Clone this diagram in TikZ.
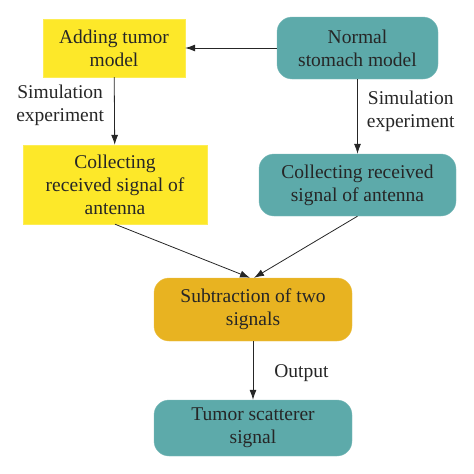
\documentclass[tikz,border=0pt]{standalone}
\usepackage{fontspec}
\setmainfont{Liberation Serif}
\usetikzlibrary{arrows.meta,positioning}

\definecolor{boxyellow}{HTML}{FDE829}
\definecolor{boxteal}{HTML}{5DAAAA}
\definecolor{boxgold}{HTML}{E8B321}
\definecolor{inkgray}{HTML}{262626}

\tikzset{
  flatbox/.style={fill=boxyellow, draw=boxyellow!80!white, align=center, inner sep=0pt},
  roundbox/.style={fill=boxteal, draw=boxteal!80!white, rounded corners=15pt, align=center, inner sep=0pt},
  flowarrow/.style={-{Latex[length=10pt,width=7pt]}, draw=inkgray, line width=0.8pt},
  steplabel/.style={align=center, text=inkgray, inner sep=0pt},
}

\begin{document}
\begin{tikzpicture}[x=1pt,y=-1pt, font=\fontsize{19.5}{23}\selectfont, text=inkgray]
        \useasboundingbox (0,0) rectangle (474,474);
        % boxes
        \node[flatbox, minimum width=142pt, minimum height=58pt] (tumor) at (114,48) {Adding tumor\\model};
        \node[roundbox, minimum width=161pt, minimum height=62pt] (normal) at (357.5,48) {Normal\\stomach model};
        \node[flatbox, minimum width=184pt, minimum height=79pt] (collectT) at (115,184.5) {Collecting\\received signal of\\antenna};
        \node[roundbox, minimum width=197pt, minimum height=62pt] (collectN) at (357.5,185) {Collecting received\\signal of antenna};
        \node[roundbox, fill=boxgold, draw=boxgold!80!white, minimum width=198pt, minimum height=63pt] (subtract) at (253,309.5) {Subtraction of two\\signals};
        \node[roundbox, minimum width=198pt, minimum height=56pt] (scatter) at (253,428) {Tumor scatterer\\signal};
        % arrows
        \draw[flowarrow] (normal) -- (tumor);
        \draw[flowarrow] (tumor) -- node[steplabel, pos=0.41, left=10pt] {Simulation\\experiment} (collectT);
        \draw[flowarrow] (normal) -- node[steplabel, pos=0.43, right=9pt] {Simulation\\experiment} (collectN);
        \draw[flowarrow] (collectT.south) -- ([xshift=-3pt]subtract.north);
        \draw[flowarrow] (collectN.south) -- ([xshift=1pt]subtract.north);
        \draw[flowarrow] (subtract) -- node[steplabel, pos=0.54, right=21pt] {Output} (scatter);
      \end{tikzpicture}
\end{document}
